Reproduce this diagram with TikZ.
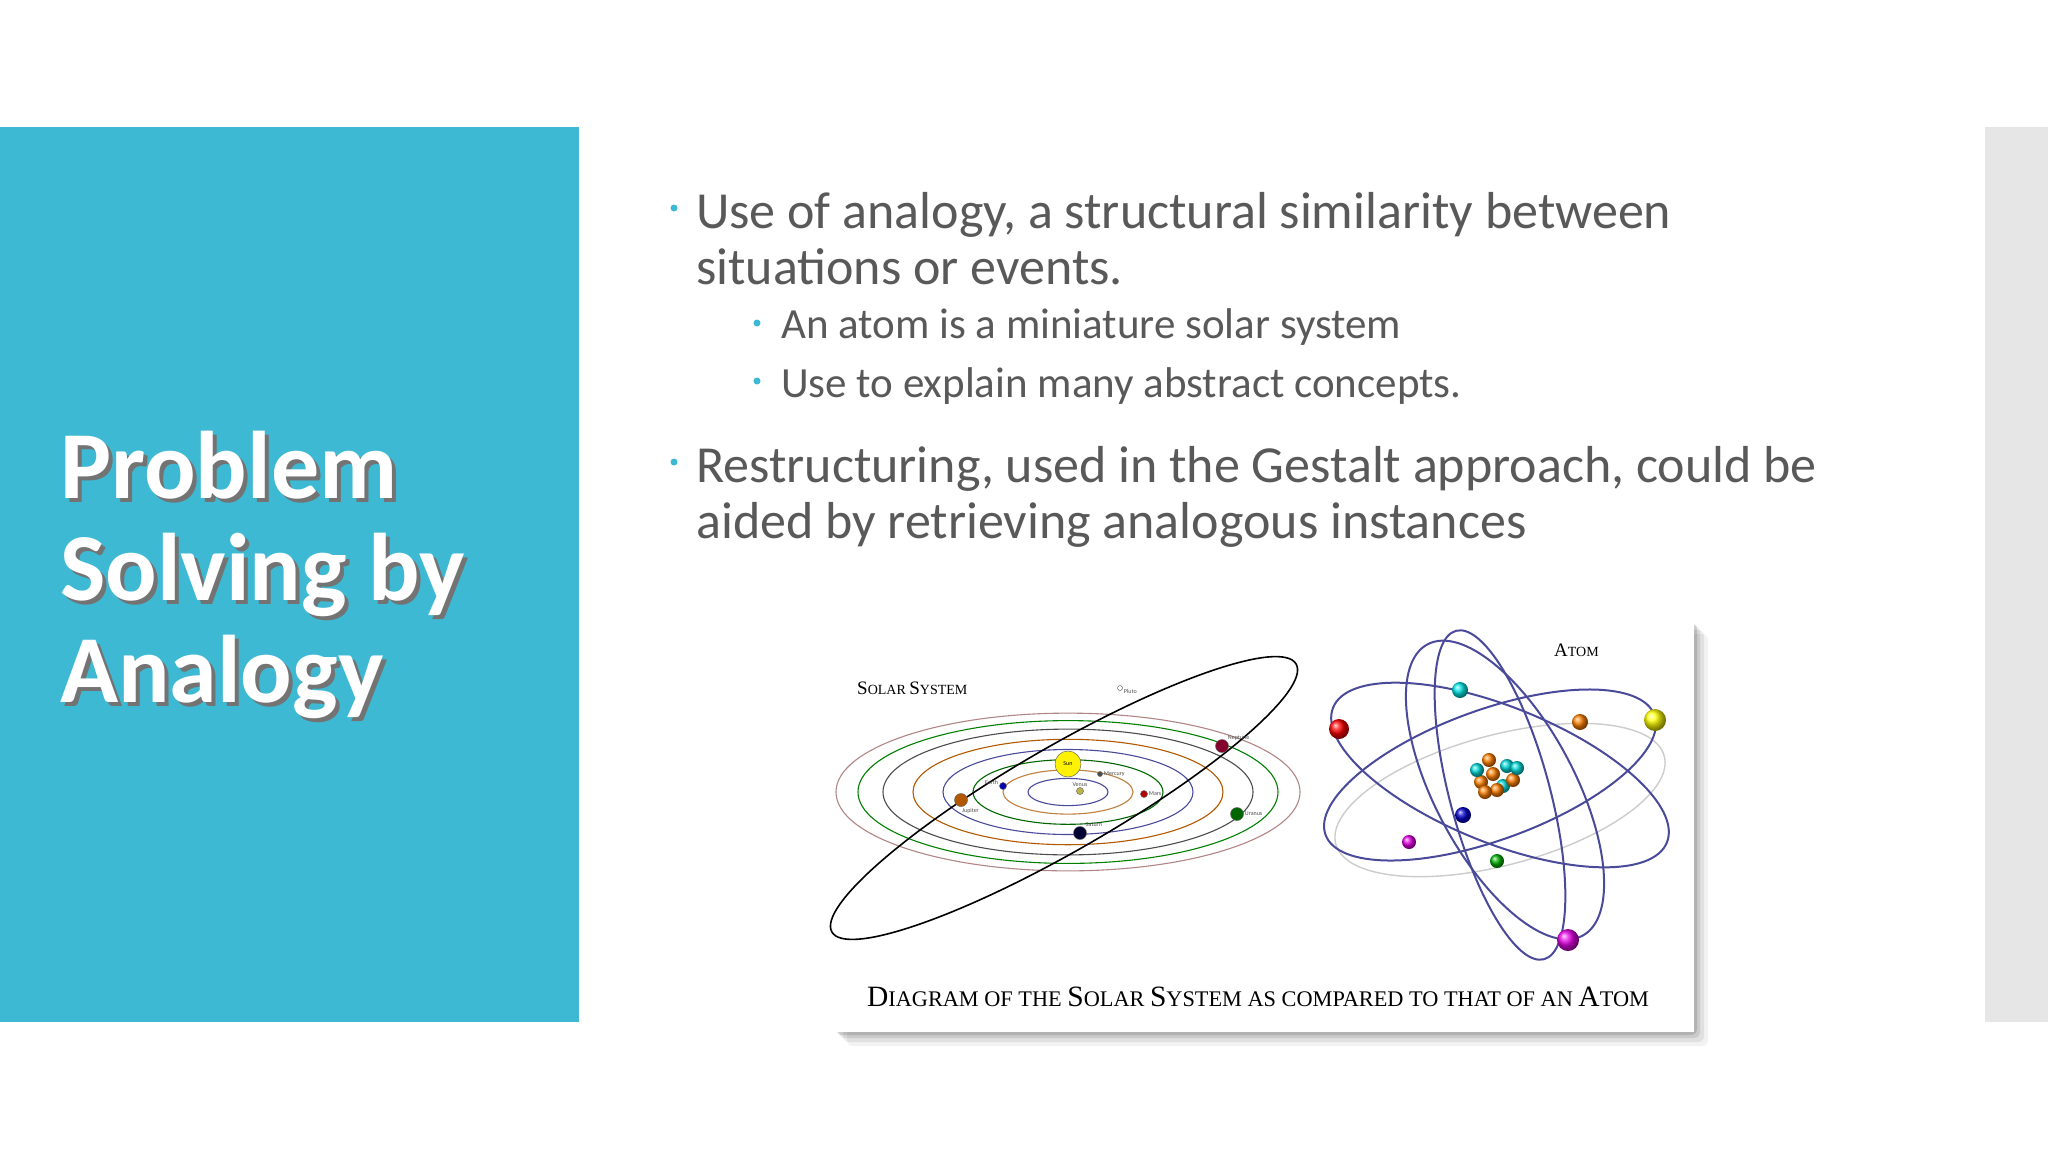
\documentclass[tikz,border=0pt]{standalone}
\usepackage{fontspec}
\setmainfont{Carlito}
\newfontfamily\tms{Liberation Serif}
\definecolor{teal1}{HTML}{3EB9D3}
\definecolor{txt}{HTML}{595959}
\definecolor{grayst}{HTML}{E6E6E6}
\definecolor{orb}{HTML}{4A4A9A}
\newcommand\capbig{\fontsize{29.5}{32}\selectfont}
\newcommand\capsm{\fontsize{22.3}{32}\selectfont}
\newcommand\lbig{\fontsize{19}{22}\selectfont}
\newcommand\lsm{\fontsize{14}{22}\selectfont}
\begin{document}
\begin{tikzpicture}[x=1pt,y=-1pt,
  mainline/.style={anchor=base west,text=txt,font=\fontsize{52}{56}\selectfont,inner sep=0},
  subline/.style={anchor=base west,text=txt,font=\fontsize{43}{48}\selectfont,inner sep=0},
  bul/.style={circle,fill=teal1,inner sep=0,minimum size=7pt},
  title/.style={anchor=base west,text=white,font=\bfseries\fontsize{96}{102}\selectfont,inner sep=0},
  tshadow/.style={anchor=base west,text=black!55,font=\bfseries\fontsize{96}{102}\selectfont,inner sep=0},
  planet/.style={circle,inner sep=0,draw=black!60,line width=0.5pt},
  plab/.style={font=\fontsize{6}{7}\selectfont,text=black!70,inner sep=1pt},
  eln/.style={circle,inner sep=0,minimum size=20pt,shading=ball}]
\useasboundingbox (0,0) rectangle (2048,1152);
\fill[white] (0,0) rectangle (2048,1152);
\fill[teal1] (0,127) rectangle (579,1022);
\fill[grayst] (1985,127) rectangle (2048,1022);
% title
\foreach \t/\yy in {Problem/498,Solving by/600,Analogy/702}{
  \node[tshadow] at (64,\yy+4) {\t};
  \node[title] at (60,\yy) {\t};}
% bullets
\node[bul] (b1) at (674,208) {};
\node[mainline] (t1) at (696,228) {Use of analogy, a structural similarity between};
\node[mainline] (t1b) at (696,284) {situations or events.};
\node[bul] (s1) at (757,323) {};
\node[subline] (u1) at (781,338) {An atom is a miniature solar system};
\node[bul] (s2) at (757,381) {};
\node[subline] (u2) at (781,397) {Use to explain many abstract concepts.};
\node[bul] (b2) at (674,462) {};
\node[mainline] (t2) at (696,482) {Restructuring, used in the Gestalt approach, could be};
\node[mainline] (t2b) at (696,538) {aided by retrieving analogous instances};
% picture shadow
\foreach \i/\o in {14/0.05,10/0.07,6/0.09,3/0.12}{
  \fill[black,opacity=\o,rounded corners=6pt] (833+\i,620+\i) rectangle (1694+\i,1032+\i);}
\fill[white] (833,620) rectangle (1694,1032);
% solar system
\foreach \r/\c in {232/pink!70!black,210/green!50!black,185/black!70,155/orange!70!black,125/orb,95/green!40!black,65/brown,40/orb}{
  \draw[\c,line width=1.1pt] (1068,792) ellipse [x radius=\r, y radius=0.34*\r];}
\draw[black,line width=1.6pt,rotate around={30:(1064,798)}] (1064,798) ellipse [x radius=268, y radius=52];
\node[planet,fill=yellow,minimum size=26pt] (sun) at (1068,764) {};
\node[font=\fontsize{6}{7}\selectfont] at (sun) {Sun};
\node[planet,fill=black!70,minimum size=5pt] (mer) at (1100,774) {};
\node[plab,anchor=west] at (mer.east) {Mercury};
\node[planet,fill=olive!60,minimum size=7pt] (ven) at (1080,791) {};
\node[plab,anchor=south] at (ven.north) {Venus};
\node[planet,fill=blue!70!black,minimum size=7pt] (ear) at (1003,786) {};
\node[plab,anchor=south east] at (ear.west) {Earth};
\node[planet,fill=red!70!black,minimum size=7pt] (mar) at (1144,794) {};
\node[plab,anchor=west] at (mar.east) {Mars};
\node[planet,fill=orange!70!black,minimum size=13pt] (jup) at (961,800) {};
\node[plab,anchor=north west] at (jup.south) {Jupiter};
\node[planet,fill=blue!20!black,minimum size=13pt] (sat) at (1080,833) {};
\node[plab,anchor=south west] at (sat.north east) {Saturn};
\node[planet,fill=green!40!black,minimum size=13pt] (ura) at (1237,814) {};
\node[plab,anchor=west] at (ura.east) {Uranus};
\node[planet,fill=purple!70!black,minimum size=13pt] (nep) at (1222,746) {};
\node[plab,anchor=south west] at (nep.north east) {Neptune};
\node[planet,fill=white,minimum size=5pt] (plu) at (1120,688) {};
\node[plab,anchor=north west] at (plu.east) {Pluto};
\node[anchor=base west,font=\tms,inner sep=0] (ss) at (857,694) {\lbig S\lsm OLAR \lbig S\lsm YSTEM};
% atom
\begin{scope}[line width=2pt]
\draw[black!20,line width=1.4pt,rotate around={15:(1500,800)}] (1500,800) ellipse [x radius=170, y radius=65];
\draw[orb,rotate around={-75:(1500,795)}] (1500,795) ellipse [x radius=170, y radius=50];
\draw[orb,rotate around={-62:(1505,790)}] (1505,790) ellipse [x radius=165, y radius=70];
\draw[orb,rotate around={20:(1490,775)}] (1490,775) ellipse [x radius=175, y radius=65];
\draw[orb,rotate around={-22:(1500,775)}] (1500,775) ellipse [x radius=180, y radius=68];
\end{scope}
\foreach \a/\b/\c in {0/0/orange,14/-8/cyan!70!teal,-12/8/orange,10/12/cyan!70!teal,-4/-14/orange,20/6/orange,-16/-4/cyan!70!teal,4/16/orange,-8/18/orange,24/-6/cyan!70!teal}{
  \node[circle,inner sep=0,minimum size=14pt,ball color=\c] at (1493+\a,774+\b) {};}
\node[eln,ball color=red] (e1) at (1339,729) {};
\node[eln,ball color=cyan!80!teal,minimum size=16pt] (e2) at (1460,690) {};
\node[eln,ball color=orange,minimum size=16pt] (e3) at (1580,722) {};
\node[eln,ball color=yellow,minimum size=22pt] (e4) at (1655,720) {};
\node[eln,ball color=blue!80!black,minimum size=16pt] (e5) at (1463,815) {};
\node[eln,ball color=magenta!80!violet,minimum size=14pt] (e6) at (1409,842) {};
\node[eln,ball color=green!70!black,minimum size=14pt] (e7) at (1497,861) {};
\node[eln,ball color=magenta!80!violet,minimum size=22pt] (e8) at (1568,940) {};
\node[anchor=base west,font=\tms,inner sep=0] (at) at (1554,656) {\lbig A\lsm TOM};
\node[anchor=base,font=\tms,inner sep=0] (cap) at (1258,1006) {\capbig D\capsm IAGRAM OF THE \capbig S\capsm OLAR \capbig S\capsm YSTEM AS COMPARED TO THAT OF AN \capbig A\capsm TOM};
\end{tikzpicture}
\end{document}
